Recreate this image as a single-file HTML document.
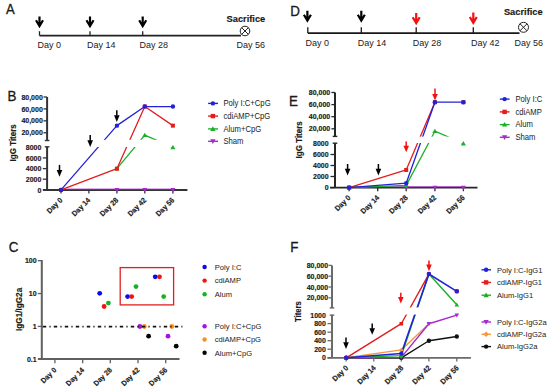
<!DOCTYPE html>
<html><head><meta charset="utf-8"><style>
html,body{margin:0;padding:0;background:#fff;}
svg{display:block;font-family:"Liberation Sans", sans-serif;}
</style></head><body>
<svg width="550" height="391" viewBox="0 0 550 391">
<rect width="550" height="391" fill="#fff"/>
<text transform="translate(6.00 14.30) scale(1.0 1.06)" font-size="13.0" text-anchor="start" fill="#1a1a1a" stroke="#1a1a1a" stroke-width="0.3" >A</text>
<text transform="translate(290.20 16.00) scale(1.0 1.06)" font-size="13.4" text-anchor="start" fill="#1a1a1a" stroke="#1a1a1a" stroke-width="0.3" >D</text>
<text transform="translate(7.60 100.70) scale(1.0 1.06)" font-size="13.4" text-anchor="start" fill="#1a1a1a" stroke="#1a1a1a" stroke-width="0.3" >B</text>
<text transform="translate(289.00 106.30) scale(1.0 1.06)" font-size="13.4" text-anchor="start" fill="#1a1a1a" stroke="#1a1a1a" stroke-width="0.3" >E</text>
<text transform="translate(8.80 252.30) scale(1.0 1.06)" font-size="13.4" text-anchor="start" fill="#1a1a1a" stroke="#1a1a1a" stroke-width="0.3" >C</text>
<text transform="translate(290.20 252.00) scale(1.0 1.06)" font-size="13.4" text-anchor="start" fill="#1a1a1a" stroke="#1a1a1a" stroke-width="0.3" >F</text>
<line x1="39.50" y1="35.65" x2="241.00" y2="35.65" stroke="#222" stroke-width="1.6" />
<line x1="39.50" y1="31.20" x2="39.50" y2="35.65" stroke="#222" stroke-width="1.3" />
<path d="M39.50,16.60 L39.50,25.40 M36.00,20.30 L39.50,26.20 L43.00,20.30" fill="none" stroke="#000" stroke-width="2.2" stroke-linejoin="miter" stroke-linecap="butt"/>
<line x1="90.00" y1="31.20" x2="90.00" y2="35.65" stroke="#222" stroke-width="1.3" />
<path d="M90.00,16.60 L90.00,25.40 M86.50,20.30 L90.00,26.20 L93.50,20.30" fill="none" stroke="#000" stroke-width="2.2" stroke-linejoin="miter" stroke-linecap="butt"/>
<line x1="142.70" y1="31.20" x2="142.70" y2="35.65" stroke="#222" stroke-width="1.3" />
<path d="M142.70,16.60 L142.70,25.40 M139.20,20.30 L142.70,26.20 L146.20,20.30" fill="none" stroke="#000" stroke-width="2.2" stroke-linejoin="miter" stroke-linecap="butt"/>
<circle cx="245.0" cy="31.0" r="4.8" fill="#fff" stroke="#222" stroke-width="1.0"/>
<path d="M241.61,27.61 L248.39,34.39 M248.39,27.61 L241.61,34.39" stroke="#222" stroke-width="1.0"/>
<text transform="translate(245.90 21.80) scale(1 1.06)" font-size="9.3" font-weight="bold" text-anchor="middle" fill="#1a1a1a" stroke="#1a1a1a" stroke-width="0.15" >Sacrifice</text>
<text transform="translate(37.40 47.60) scale(1.0 1.06)" font-size="9.0" text-anchor="start" fill="#1a1a1a" stroke="#1a1a1a" stroke-width="0" >Day 0</text>
<text transform="translate(86.90 47.60) scale(1.0 1.06)" font-size="9.0" text-anchor="start" fill="#1a1a1a" stroke="#1a1a1a" stroke-width="0" >Day 14</text>
<text transform="translate(139.60 47.60) scale(1.0 1.06)" font-size="9.0" text-anchor="start" fill="#1a1a1a" stroke="#1a1a1a" stroke-width="0" >Day 28</text>
<text transform="translate(236.60 47.60) scale(1.0 1.06)" font-size="9.0" text-anchor="start" fill="#1a1a1a" stroke="#1a1a1a" stroke-width="0" >Day 56</text>
<line x1="307.80" y1="33.10" x2="519.50" y2="33.10" stroke="#181818" stroke-width="1.6" />
<line x1="307.80" y1="27.30" x2="307.80" y2="33.10" stroke="#181818" stroke-width="1.3" />
<line x1="361.30" y1="27.30" x2="361.30" y2="33.10" stroke="#181818" stroke-width="1.3" />
<line x1="416.20" y1="27.30" x2="416.20" y2="33.10" stroke="#181818" stroke-width="1.3" />
<line x1="473.30" y1="27.30" x2="473.30" y2="33.10" stroke="#181818" stroke-width="1.3" />
<path d="M307.40,10.80 L307.40,19.80 M303.90,14.70 L307.40,20.60 L310.90,14.70" fill="none" stroke="#000" stroke-width="2.2" stroke-linejoin="miter" stroke-linecap="butt"/>
<path d="M361.30,10.80 L361.30,19.80 M357.80,14.70 L361.30,20.60 L364.80,14.70" fill="none" stroke="#000" stroke-width="2.2" stroke-linejoin="miter" stroke-linecap="butt"/>
<path d="M416.20,13.00 L416.20,22.30 M412.70,17.20 L416.20,23.10 L419.70,17.20" fill="none" stroke="#f51010" stroke-width="2.2" stroke-linejoin="miter" stroke-linecap="butt"/>
<path d="M473.30,12.60 L473.30,22.10 M469.80,17.00 L473.30,22.90 L476.80,17.00" fill="none" stroke="#f51010" stroke-width="2.2" stroke-linejoin="miter" stroke-linecap="butt"/>
<circle cx="523.5" cy="27.3" r="5.0" fill="#fff" stroke="#222" stroke-width="1.0"/>
<path d="M519.96,23.76 L527.04,30.84 M527.04,23.76 L519.96,30.84" stroke="#222" stroke-width="1.0"/>
<text transform="translate(523.30 14.90) scale(1 1.06)" font-size="9.3" font-weight="bold" text-anchor="middle" fill="#1a1a1a" stroke="#1a1a1a" stroke-width="0.15" >Sacrifice</text>
<text transform="translate(305.40 45.90) scale(1.0 1.06)" font-size="9.0" text-anchor="start" fill="#1a1a1a" stroke="#1a1a1a" stroke-width="0" >Day 0</text>
<text transform="translate(357.80 45.90) scale(1.0 1.06)" font-size="9.0" text-anchor="start" fill="#1a1a1a" stroke="#1a1a1a" stroke-width="0" >Day 14</text>
<text transform="translate(412.70 45.90) scale(1.0 1.06)" font-size="9.0" text-anchor="start" fill="#1a1a1a" stroke="#1a1a1a" stroke-width="0" >Day 28</text>
<text transform="translate(470.90 45.90) scale(1.0 1.06)" font-size="9.0" text-anchor="start" fill="#1a1a1a" stroke="#1a1a1a" stroke-width="0" >Day 42</text>
<text transform="translate(514.50 45.90) scale(1.0 1.06)" font-size="9.0" text-anchor="start" fill="#1a1a1a" stroke="#1a1a1a" stroke-width="0" >Day 56</text>
<line x1="43.00" y1="190.00" x2="187.40" y2="190.00" stroke="#333" stroke-width="1.8" />
<polyline points="61.00,189.10 116.90,189.10 144.80,189.10 172.90,189.10" fill="none" stroke="#a52ad0" stroke-width="0.9" stroke-linejoin="round"/>
<polyline points="116.90,168.66 144.80,135.19 172.90,147.42" fill="none" stroke="#1cb02a" stroke-width="1.3" stroke-linejoin="round"/>
<polyline points="61.00,189.90 116.90,168.66 144.80,106.55 172.90,125.64" fill="none" stroke="#e41c1c" stroke-width="1.3" stroke-linejoin="round"/>
<polyline points="61.00,189.90 116.90,125.64 144.80,106.55 172.90,106.55" fill="none" stroke="#2222d8" stroke-width="1.3" stroke-linejoin="round"/>
<rect x="48.30" y="139.80" width="140.30" height="7.20" fill="#fff"/>
<line x1="47.10" y1="97.00" x2="47.10" y2="140.50" stroke="#333" stroke-width="2.0" />
<line x1="44.80" y1="140.50" x2="49.40" y2="140.50" stroke="#333" stroke-width="1.4" />
<line x1="47.10" y1="146.80" x2="47.10" y2="190.00" stroke="#333" stroke-width="2.0" />
<line x1="44.80" y1="146.80" x2="49.40" y2="146.80" stroke="#333" stroke-width="1.4" />
<line x1="43.50" y1="97.00" x2="47.10" y2="97.00" stroke="#333" stroke-width="1.3" />
<text transform="translate(42.80 99.60) scale(1 1.06)" font-size="7" font-weight="bold" text-anchor="end" fill="#1a1a1a" stroke="#1a1a1a" stroke-width="0.15" >80,000</text>
<line x1="43.50" y1="108.90" x2="47.10" y2="108.90" stroke="#333" stroke-width="1.3" />
<text transform="translate(42.80 111.50) scale(1 1.06)" font-size="7" font-weight="bold" text-anchor="end" fill="#1a1a1a" stroke="#1a1a1a" stroke-width="0.15" >60,000</text>
<line x1="43.50" y1="120.80" x2="47.10" y2="120.80" stroke="#333" stroke-width="1.3" />
<text transform="translate(42.80 123.40) scale(1 1.06)" font-size="7" font-weight="bold" text-anchor="end" fill="#1a1a1a" stroke="#1a1a1a" stroke-width="0.15" >40,000</text>
<line x1="43.50" y1="132.80" x2="47.10" y2="132.80" stroke="#333" stroke-width="1.3" />
<text transform="translate(42.80 135.40) scale(1 1.06)" font-size="7" font-weight="bold" text-anchor="end" fill="#1a1a1a" stroke="#1a1a1a" stroke-width="0.15" >20,000</text>
<text transform="translate(41.30 150.00) scale(1 1.06)" font-size="7" font-weight="bold" text-anchor="end" fill="#1a1a1a" stroke="#1a1a1a" stroke-width="0.15" >8000</text>
<line x1="42.80" y1="157.90" x2="47.10" y2="157.90" stroke="#333" stroke-width="1.3" />
<text transform="translate(41.30 160.50) scale(1 1.06)" font-size="7" font-weight="bold" text-anchor="end" fill="#1a1a1a" stroke="#1a1a1a" stroke-width="0.15" >6000</text>
<line x1="42.80" y1="168.60" x2="47.10" y2="168.60" stroke="#333" stroke-width="1.3" />
<text transform="translate(41.30 171.20) scale(1 1.06)" font-size="7" font-weight="bold" text-anchor="end" fill="#1a1a1a" stroke="#1a1a1a" stroke-width="0.15" >4000</text>
<line x1="42.80" y1="179.20" x2="47.10" y2="179.20" stroke="#333" stroke-width="1.3" />
<text transform="translate(41.30 181.80) scale(1 1.06)" font-size="7" font-weight="bold" text-anchor="end" fill="#1a1a1a" stroke="#1a1a1a" stroke-width="0.15" >2000</text>
<line x1="42.80" y1="189.90" x2="47.10" y2="189.90" stroke="#333" stroke-width="1.3" />
<text transform="translate(41.30 192.50) scale(1 1.06)" font-size="7" font-weight="bold" text-anchor="end" fill="#1a1a1a" stroke="#1a1a1a" stroke-width="0.15" >0</text>
<line x1="61.00" y1="190.00" x2="61.00" y2="193.60" stroke="#333" stroke-width="1.3" />
<line x1="88.90" y1="190.00" x2="88.90" y2="193.60" stroke="#333" stroke-width="1.3" />
<line x1="116.90" y1="190.00" x2="116.90" y2="193.60" stroke="#333" stroke-width="1.3" />
<line x1="144.80" y1="190.00" x2="144.80" y2="193.60" stroke="#333" stroke-width="1.3" />
<line x1="172.90" y1="190.00" x2="172.90" y2="193.60" stroke="#333" stroke-width="1.3" />
<text font-size="7.1" font-weight="bold" text-anchor="end" fill="#1a1a1a" stroke="#1a1a1a" stroke-width="0.15" transform="translate(63.00 200.60) rotate(-45) scale(1 1.06)">Day 0</text>
<text font-size="7.1" font-weight="bold" text-anchor="end" fill="#1a1a1a" stroke="#1a1a1a" stroke-width="0.15" transform="translate(90.90 200.60) rotate(-45) scale(1 1.06)">Day 14</text>
<text font-size="7.1" font-weight="bold" text-anchor="end" fill="#1a1a1a" stroke="#1a1a1a" stroke-width="0.15" transform="translate(118.90 200.60) rotate(-45) scale(1 1.06)">Day 28</text>
<text font-size="7.1" font-weight="bold" text-anchor="end" fill="#1a1a1a" stroke="#1a1a1a" stroke-width="0.15" transform="translate(146.80 200.60) rotate(-45) scale(1 1.06)">Day 42</text>
<text font-size="7.1" font-weight="bold" text-anchor="end" fill="#1a1a1a" stroke="#1a1a1a" stroke-width="0.15" transform="translate(174.90 200.60) rotate(-45) scale(1 1.06)">Day 56</text>
<text font-size="8" font-weight="bold" text-anchor="middle" fill="#1a1a1a" stroke="#1a1a1a" stroke-width="0.15" transform="translate(15.80 142.80) rotate(-90) scale(1 1.06)">IgG Titers</text>
<path d="M61.00,192.30 L63.40,188.10 L58.60,188.10 Z" fill="#a52ad0"/>
<path d="M116.90,192.30 L119.30,188.10 L114.50,188.10 Z" fill="#a52ad0"/>
<path d="M144.80,192.30 L147.20,188.10 L142.40,188.10 Z" fill="#a52ad0"/>
<path d="M172.90,192.30 L175.30,188.10 L170.50,188.10 Z" fill="#a52ad0"/>
<path d="M116.90,166.14 L119.42,170.55 L114.38,170.55 Z" fill="#1cb02a"/>
<path d="M144.80,132.67 L147.32,137.08 L142.28,137.08 Z" fill="#1cb02a"/>
<path d="M172.90,144.90 L175.42,149.31 L170.38,149.31 Z" fill="#1cb02a"/>
<rect x="59.00" y="187.90" width="4.00" height="4.00" fill="#e41c1c"/>
<rect x="114.90" y="166.66" width="4.00" height="4.00" fill="#e41c1c"/>
<rect x="142.80" y="104.55" width="4.00" height="4.00" fill="#e41c1c"/>
<rect x="170.90" y="123.64" width="4.00" height="4.00" fill="#e41c1c"/>
<circle cx="61.00" cy="189.90" r="2.2" fill="#2222d8"/>
<circle cx="116.90" cy="125.64" r="2.2" fill="#2222d8"/>
<circle cx="144.80" cy="106.55" r="2.2" fill="#2222d8"/>
<circle cx="172.90" cy="106.55" r="2.2" fill="#2222d8"/>
<line x1="59.50" y1="164.90" x2="59.50" y2="170.60" stroke="#000" stroke-width="1.5"/>
<path d="M56.70,170.10 L62.30,170.10 L59.50,176.70 Z" fill="#000"/>
<line x1="90.20" y1="135.10" x2="90.20" y2="140.80" stroke="#000" stroke-width="1.5"/>
<path d="M87.40,140.30 L93.00,140.30 L90.20,146.90 Z" fill="#000"/>
<line x1="116.80" y1="110.30" x2="116.80" y2="115.80" stroke="#000" stroke-width="1.5"/>
<path d="M114.00,115.30 L119.60,115.30 L116.80,121.90 Z" fill="#000"/>
<line x1="208.10" y1="103.40" x2="218.00" y2="103.40" stroke="#2222d8" stroke-width="1.4" />
<circle cx="212.90" cy="103.40" r="2.2" fill="#2222d8"/>
<text transform="translate(223.40 106.10) scale(1.0 1.06)" font-size="7.7" text-anchor="start" fill="#1a1a1a" stroke="#1a1a1a" stroke-width="0" >Poly I:C+CpG</text>
<line x1="208.10" y1="116.10" x2="218.00" y2="116.10" stroke="#e41c1c" stroke-width="1.4" />
<rect x="210.70" y="113.90" width="4.40" height="4.40" fill="#e41c1c"/>
<text transform="translate(223.40 118.80) scale(1.0 1.06)" font-size="7.7" text-anchor="start" fill="#1a1a1a" stroke="#1a1a1a" stroke-width="0" >cdiAMP+CpG</text>
<line x1="208.10" y1="128.90" x2="218.00" y2="128.90" stroke="#1cb02a" stroke-width="1.4" />
<path d="M212.90,126.26 L215.54,130.88 L210.26,130.88 Z" fill="#1cb02a"/>
<text transform="translate(223.40 131.60) scale(1.0 1.06)" font-size="7.7" text-anchor="start" fill="#1a1a1a" stroke="#1a1a1a" stroke-width="0" >Alum+CpG</text>
<line x1="208.10" y1="141.30" x2="218.00" y2="141.30" stroke="#a52ad0" stroke-width="1.4" />
<path d="M212.90,143.94 L215.54,139.32 L210.26,139.32 Z" fill="#a52ad0"/>
<text transform="translate(223.40 144.00) scale(1.0 1.06)" font-size="7.7" text-anchor="start" fill="#1a1a1a" stroke="#1a1a1a" stroke-width="0" >Sham</text>
<line x1="330.00" y1="187.60" x2="477.50" y2="187.60" stroke="#262626" stroke-width="1.8" />
<polyline points="349.10,186.80 406.20,186.80 434.90,186.80 463.40,186.80" fill="none" stroke="#a52ad0" stroke-width="0.9" stroke-linejoin="round"/>
<polyline points="349.10,187.60 406.20,185.40 434.90,131.22 463.40,143.52" fill="none" stroke="#1cb02a" stroke-width="1.3" stroke-linejoin="round"/>
<polyline points="349.10,187.60 406.20,169.97 434.90,102.18" fill="none" stroke="#e41c1c" stroke-width="1.3" stroke-linejoin="round"/>
<polyline points="349.10,187.60 406.20,183.19 434.90,102.18 463.40,102.18" fill="none" stroke="#2222d8" stroke-width="1.3" stroke-linejoin="round"/>
<rect x="336.20" y="136.60" width="142.50" height="6.40" fill="#fff"/>
<line x1="335.00" y1="92.50" x2="335.00" y2="136.40" stroke="#262626" stroke-width="2.0" />
<line x1="332.70" y1="136.40" x2="337.30" y2="136.40" stroke="#262626" stroke-width="1.4" />
<line x1="335.00" y1="143.20" x2="335.00" y2="187.60" stroke="#262626" stroke-width="2.0" />
<line x1="332.70" y1="143.20" x2="337.30" y2="143.20" stroke="#262626" stroke-width="1.4" />
<line x1="331.40" y1="92.50" x2="335.00" y2="92.50" stroke="#262626" stroke-width="1.3" />
<text transform="translate(330.20 95.10) scale(1 1.06)" font-size="7" font-weight="bold" text-anchor="end" fill="#1a1a1a" stroke="#1a1a1a" stroke-width="0.15" >80,000</text>
<line x1="331.40" y1="104.60" x2="335.00" y2="104.60" stroke="#262626" stroke-width="1.3" />
<text transform="translate(330.20 107.20) scale(1 1.06)" font-size="7" font-weight="bold" text-anchor="end" fill="#1a1a1a" stroke="#1a1a1a" stroke-width="0.15" >60,000</text>
<line x1="331.40" y1="116.70" x2="335.00" y2="116.70" stroke="#262626" stroke-width="1.3" />
<text transform="translate(330.20 119.30) scale(1 1.06)" font-size="7" font-weight="bold" text-anchor="end" fill="#1a1a1a" stroke="#1a1a1a" stroke-width="0.15" >40,000</text>
<line x1="331.40" y1="128.80" x2="335.00" y2="128.80" stroke="#262626" stroke-width="1.3" />
<text transform="translate(330.20 131.40) scale(1 1.06)" font-size="7" font-weight="bold" text-anchor="end" fill="#1a1a1a" stroke="#1a1a1a" stroke-width="0.15" >20,000</text>
<text transform="translate(328.60 146.20) scale(1 1.06)" font-size="7" font-weight="bold" text-anchor="end" fill="#1a1a1a" stroke="#1a1a1a" stroke-width="0.15" >8000</text>
<line x1="330.50" y1="154.50" x2="335.00" y2="154.50" stroke="#262626" stroke-width="1.3" />
<text transform="translate(328.60 157.10) scale(1 1.06)" font-size="7" font-weight="bold" text-anchor="end" fill="#1a1a1a" stroke="#1a1a1a" stroke-width="0.15" >6000</text>
<line x1="330.50" y1="165.50" x2="335.00" y2="165.50" stroke="#262626" stroke-width="1.3" />
<text transform="translate(328.60 168.10) scale(1 1.06)" font-size="7" font-weight="bold" text-anchor="end" fill="#1a1a1a" stroke="#1a1a1a" stroke-width="0.15" >4000</text>
<line x1="330.50" y1="176.50" x2="335.00" y2="176.50" stroke="#262626" stroke-width="1.3" />
<text transform="translate(328.60 179.10) scale(1 1.06)" font-size="7" font-weight="bold" text-anchor="end" fill="#1a1a1a" stroke="#1a1a1a" stroke-width="0.15" >2000</text>
<line x1="330.50" y1="187.60" x2="335.00" y2="187.60" stroke="#262626" stroke-width="1.3" />
<text transform="translate(328.60 190.20) scale(1 1.06)" font-size="7" font-weight="bold" text-anchor="end" fill="#1a1a1a" stroke="#1a1a1a" stroke-width="0.15" >0</text>
<line x1="349.10" y1="187.60" x2="349.10" y2="191.20" stroke="#262626" stroke-width="1.3" />
<line x1="377.70" y1="187.60" x2="377.70" y2="191.20" stroke="#262626" stroke-width="1.3" />
<line x1="406.20" y1="187.60" x2="406.20" y2="191.20" stroke="#262626" stroke-width="1.3" />
<line x1="434.90" y1="187.60" x2="434.90" y2="191.20" stroke="#262626" stroke-width="1.3" />
<line x1="463.40" y1="187.60" x2="463.40" y2="191.20" stroke="#262626" stroke-width="1.3" />
<text font-size="7.1" font-weight="bold" text-anchor="end" fill="#1a1a1a" stroke="#1a1a1a" stroke-width="0.15" transform="translate(351.10 198.20) rotate(-45) scale(1 1.06)">Day 0</text>
<text font-size="7.1" font-weight="bold" text-anchor="end" fill="#1a1a1a" stroke="#1a1a1a" stroke-width="0.15" transform="translate(379.70 198.20) rotate(-45) scale(1 1.06)">Day 14</text>
<text font-size="7.1" font-weight="bold" text-anchor="end" fill="#1a1a1a" stroke="#1a1a1a" stroke-width="0.15" transform="translate(408.20 198.20) rotate(-45) scale(1 1.06)">Day 28</text>
<text font-size="7.1" font-weight="bold" text-anchor="end" fill="#1a1a1a" stroke="#1a1a1a" stroke-width="0.15" transform="translate(436.90 198.20) rotate(-45) scale(1 1.06)">Day 42</text>
<text font-size="7.1" font-weight="bold" text-anchor="end" fill="#1a1a1a" stroke="#1a1a1a" stroke-width="0.15" transform="translate(465.40 198.20) rotate(-45) scale(1 1.06)">Day 56</text>
<text font-size="8" font-weight="bold" text-anchor="middle" fill="#1a1a1a" stroke="#1a1a1a" stroke-width="0.15" transform="translate(302.10 139.80) rotate(-90) scale(1 1.06)">IgG Titers</text>
<rect x="461.40" y="100.18" width="4.00" height="4.00" fill="#e41c1c"/>
<path d="M349.10,190.00 L351.50,185.80 L346.70,185.80 Z" fill="#a52ad0"/>
<path d="M406.20,190.00 L408.60,185.80 L403.80,185.80 Z" fill="#a52ad0"/>
<path d="M434.90,190.00 L437.30,185.80 L432.50,185.80 Z" fill="#a52ad0"/>
<path d="M463.40,190.00 L465.80,185.80 L461.00,185.80 Z" fill="#a52ad0"/>
<path d="M349.10,185.08 L351.62,189.49 L346.58,189.49 Z" fill="#1cb02a"/>
<path d="M406.20,182.88 L408.72,187.29 L403.68,187.29 Z" fill="#1cb02a"/>
<path d="M434.90,128.70 L437.42,133.11 L432.38,133.11 Z" fill="#1cb02a"/>
<path d="M463.40,141.00 L465.92,145.41 L460.88,145.41 Z" fill="#1cb02a"/>
<rect x="347.10" y="185.60" width="4.00" height="4.00" fill="#e41c1c"/>
<rect x="404.20" y="167.97" width="4.00" height="4.00" fill="#e41c1c"/>
<rect x="432.90" y="100.18" width="4.00" height="4.00" fill="#e41c1c"/>
<circle cx="349.10" cy="187.60" r="2.2" fill="#2222d8"/>
<circle cx="406.20" cy="183.19" r="2.2" fill="#2222d8"/>
<circle cx="434.90" cy="102.18" r="2.2" fill="#2222d8"/>
<circle cx="463.40" cy="102.18" r="2.2" fill="#2222d8"/>
<line x1="347.60" y1="164.00" x2="347.60" y2="169.30" stroke="#000" stroke-width="1.5"/>
<path d="M344.80,168.80 L350.40,168.80 L347.60,175.40 Z" fill="#000"/>
<line x1="378.40" y1="164.00" x2="378.40" y2="169.30" stroke="#000" stroke-width="1.5"/>
<path d="M375.60,168.80 L381.20,168.80 L378.40,175.40 Z" fill="#000"/>
<line x1="406.20" y1="141.50" x2="406.20" y2="146.20" stroke="#f51010" stroke-width="1.5"/>
<path d="M403.40,145.70 L409.00,145.70 L406.20,152.30 Z" fill="#f51010"/>
<line x1="435.00" y1="88.50" x2="435.00" y2="94.50" stroke="#f51010" stroke-width="1.5"/>
<path d="M432.20,94.00 L437.80,94.00 L435.00,100.60 Z" fill="#f51010"/>
<line x1="499.80" y1="99.10" x2="509.60" y2="99.10" stroke="#2222d8" stroke-width="1.4" />
<circle cx="504.60" cy="99.10" r="2.2" fill="#2222d8"/>
<text transform="translate(515.40 101.80) scale(1.0 1.06)" font-size="7.7" text-anchor="start" fill="#1a1a1a" stroke="#1a1a1a" stroke-width="0" >Poly I:C</text>
<line x1="499.80" y1="111.90" x2="509.60" y2="111.90" stroke="#e41c1c" stroke-width="1.4" />
<rect x="502.40" y="109.70" width="4.40" height="4.40" fill="#e41c1c"/>
<text transform="translate(515.40 114.60) scale(1.0 1.06)" font-size="7.7" text-anchor="start" fill="#1a1a1a" stroke="#1a1a1a" stroke-width="0" >cdiAMP</text>
<line x1="499.80" y1="124.60" x2="509.60" y2="124.60" stroke="#1cb02a" stroke-width="1.4" />
<path d="M504.60,121.96 L507.24,126.58 L501.96,126.58 Z" fill="#1cb02a"/>
<text transform="translate(515.40 127.30) scale(1.0 1.06)" font-size="7.7" text-anchor="start" fill="#1a1a1a" stroke="#1a1a1a" stroke-width="0" >Alum</text>
<line x1="499.80" y1="137.30" x2="509.60" y2="137.30" stroke="#a52ad0" stroke-width="1.4" />
<path d="M504.60,139.94 L507.24,135.32 L501.96,135.32 Z" fill="#a52ad0"/>
<text transform="translate(515.40 140.00) scale(1.0 1.06)" font-size="7.7" text-anchor="start" fill="#1a1a1a" stroke="#1a1a1a" stroke-width="0" >Sham</text>
<line x1="327.50" y1="357.90" x2="470.90" y2="357.90" stroke="#6a6a6a" stroke-width="1.8" />
<polyline points="346.20,357.80 401.30,357.80 428.90,340.76 456.80,336.50" fill="none" stroke="#111111" stroke-width="1.4" stroke-linejoin="round"/>
<polyline points="346.20,357.80 401.30,349.92 428.90,323.72" fill="none" stroke="#f5993e" stroke-width="1.4" stroke-linejoin="round"/>
<polyline points="346.20,357.80 401.30,357.37 428.90,323.72 456.80,315.20" fill="none" stroke="#a52ad0" stroke-width="1.4" stroke-linejoin="round"/>
<polyline points="346.20,357.80 401.30,355.67 428.90,274.04 456.80,304.82" fill="none" stroke="#1cb02a" stroke-width="1.4" stroke-linejoin="round"/>
<polyline points="346.20,357.80 401.30,323.72 428.90,274.04" fill="none" stroke="#e41c1c" stroke-width="1.4" stroke-linejoin="round"/>
<polyline points="346.20,357.80 401.30,353.54 428.90,274.04 456.80,291.32" fill="none" stroke="#2222d8" stroke-width="1.6" stroke-linejoin="round"/>
<rect x="333.20" y="307.40" width="138.90" height="7.20" fill="#fff"/>
<line x1="332.00" y1="265.40" x2="332.00" y2="307.90" stroke="#6a6a6a" stroke-width="2.0" />
<line x1="329.70" y1="307.90" x2="334.30" y2="307.90" stroke="#6a6a6a" stroke-width="1.4" />
<line x1="332.00" y1="315.10" x2="332.00" y2="357.90" stroke="#6a6a6a" stroke-width="2.0" />
<line x1="329.70" y1="315.10" x2="334.30" y2="315.10" stroke="#6a6a6a" stroke-width="1.4" />
<line x1="328.60" y1="265.40" x2="332.00" y2="265.40" stroke="#6a6a6a" stroke-width="1.3" />
<text transform="translate(328.10 268.00) scale(1 1.06)" font-size="7" font-weight="bold" text-anchor="end" fill="#1a1a1a" stroke="#1a1a1a" stroke-width="0.15" >80,000</text>
<line x1="328.60" y1="276.20" x2="332.00" y2="276.20" stroke="#6a6a6a" stroke-width="1.3" />
<text transform="translate(328.10 278.80) scale(1 1.06)" font-size="7" font-weight="bold" text-anchor="end" fill="#1a1a1a" stroke="#1a1a1a" stroke-width="0.15" >60,000</text>
<line x1="328.60" y1="287.00" x2="332.00" y2="287.00" stroke="#6a6a6a" stroke-width="1.3" />
<text transform="translate(328.10 289.60) scale(1 1.06)" font-size="7" font-weight="bold" text-anchor="end" fill="#1a1a1a" stroke="#1a1a1a" stroke-width="0.15" >40,000</text>
<line x1="328.60" y1="297.80" x2="332.00" y2="297.80" stroke="#6a6a6a" stroke-width="1.3" />
<text transform="translate(328.10 300.40) scale(1 1.06)" font-size="7" font-weight="bold" text-anchor="end" fill="#1a1a1a" stroke="#1a1a1a" stroke-width="0.15" >20,000</text>
<text transform="translate(325.90 317.80) scale(1 1.06)" font-size="7" font-weight="bold" text-anchor="end" fill="#1a1a1a" stroke="#1a1a1a" stroke-width="0.15" >1000</text>
<line x1="327.50" y1="323.60" x2="332.00" y2="323.60" stroke="#6a6a6a" stroke-width="1.3" />
<text transform="translate(325.90 326.20) scale(1 1.06)" font-size="7" font-weight="bold" text-anchor="end" fill="#1a1a1a" stroke="#1a1a1a" stroke-width="0.15" >800</text>
<line x1="327.50" y1="332.20" x2="332.00" y2="332.20" stroke="#6a6a6a" stroke-width="1.3" />
<text transform="translate(325.90 334.80) scale(1 1.06)" font-size="7" font-weight="bold" text-anchor="end" fill="#1a1a1a" stroke="#1a1a1a" stroke-width="0.15" >600</text>
<line x1="327.50" y1="340.70" x2="332.00" y2="340.70" stroke="#6a6a6a" stroke-width="1.3" />
<text transform="translate(325.90 343.30) scale(1 1.06)" font-size="7" font-weight="bold" text-anchor="end" fill="#1a1a1a" stroke="#1a1a1a" stroke-width="0.15" >400</text>
<line x1="327.50" y1="349.20" x2="332.00" y2="349.20" stroke="#6a6a6a" stroke-width="1.3" />
<text transform="translate(325.90 351.80) scale(1 1.06)" font-size="7" font-weight="bold" text-anchor="end" fill="#1a1a1a" stroke="#1a1a1a" stroke-width="0.15" >200</text>
<line x1="327.50" y1="357.80" x2="332.00" y2="357.80" stroke="#6a6a6a" stroke-width="1.3" />
<text transform="translate(325.90 360.40) scale(1 1.06)" font-size="7" font-weight="bold" text-anchor="end" fill="#1a1a1a" stroke="#1a1a1a" stroke-width="0.15" >0</text>
<line x1="346.20" y1="357.90" x2="346.20" y2="361.50" stroke="#6a6a6a" stroke-width="1.3" />
<line x1="373.80" y1="357.90" x2="373.80" y2="361.50" stroke="#6a6a6a" stroke-width="1.3" />
<line x1="401.30" y1="357.90" x2="401.30" y2="361.50" stroke="#6a6a6a" stroke-width="1.3" />
<line x1="428.90" y1="357.90" x2="428.90" y2="361.50" stroke="#6a6a6a" stroke-width="1.3" />
<line x1="456.80" y1="357.90" x2="456.80" y2="361.50" stroke="#6a6a6a" stroke-width="1.3" />
<text font-size="7.1" font-weight="bold" text-anchor="end" fill="#1a1a1a" stroke="#1a1a1a" stroke-width="0.15" transform="translate(348.70 368.50) rotate(-45) scale(1 1.06)">Day 0</text>
<text font-size="7.1" font-weight="bold" text-anchor="end" fill="#1a1a1a" stroke="#1a1a1a" stroke-width="0.15" transform="translate(376.30 368.50) rotate(-45) scale(1 1.06)">Day 14</text>
<text font-size="7.1" font-weight="bold" text-anchor="end" fill="#1a1a1a" stroke="#1a1a1a" stroke-width="0.15" transform="translate(403.80 368.50) rotate(-45) scale(1 1.06)">Day 28</text>
<text font-size="7.1" font-weight="bold" text-anchor="end" fill="#1a1a1a" stroke="#1a1a1a" stroke-width="0.15" transform="translate(431.40 368.50) rotate(-45) scale(1 1.06)">Day 42</text>
<text font-size="7.1" font-weight="bold" text-anchor="end" fill="#1a1a1a" stroke="#1a1a1a" stroke-width="0.15" transform="translate(459.30 368.50) rotate(-45) scale(1 1.06)">Day 56</text>
<text font-size="7.7" font-weight="bold" text-anchor="middle" fill="#1a1a1a" stroke="#1a1a1a" stroke-width="0.15" transform="translate(301.30 311.60) rotate(-90) scale(1 1.06)">Titers</text>
<rect x="454.90" y="289.42" width="3.80" height="3.80" fill="#e41c1c"/>
<circle cx="346.20" cy="357.80" r="2.2" fill="#111111"/>
<circle cx="401.30" cy="357.80" r="2.2" fill="#111111"/>
<circle cx="428.90" cy="340.76" r="2.2" fill="#111111"/>
<circle cx="456.80" cy="336.50" r="2.2" fill="#111111"/>
<path d="M346.20,355.55 L348.45,357.80 L346.20,360.05 L343.95,357.80 Z" fill="#f5993e"/>
<path d="M401.30,347.67 L403.55,349.92 L401.30,352.17 L399.05,349.92 Z" fill="#f5993e"/>
<path d="M428.90,321.47 L431.15,323.72 L428.90,325.97 L426.65,323.72 Z" fill="#f5993e"/>
<path d="M346.20,360.08 L348.48,356.09 L343.92,356.09 Z" fill="#a52ad0"/>
<path d="M401.30,359.65 L403.58,355.66 L399.02,355.66 Z" fill="#a52ad0"/>
<path d="M428.90,326.00 L431.18,322.01 L426.62,322.01 Z" fill="#a52ad0"/>
<path d="M456.80,317.48 L459.08,313.49 L454.52,313.49 Z" fill="#a52ad0"/>
<path d="M346.20,355.52 L348.48,359.51 L343.92,359.51 Z" fill="#1cb02a"/>
<path d="M401.30,353.39 L403.58,357.38 L399.02,357.38 Z" fill="#1cb02a"/>
<path d="M428.90,271.76 L431.18,275.75 L426.62,275.75 Z" fill="#1cb02a"/>
<path d="M456.80,302.54 L459.08,306.53 L454.52,306.53 Z" fill="#1cb02a"/>
<rect x="344.40" y="356.00" width="3.60" height="3.60" fill="#e41c1c"/>
<rect x="399.50" y="321.92" width="3.60" height="3.60" fill="#e41c1c"/>
<rect x="427.10" y="272.24" width="3.60" height="3.60" fill="#e41c1c"/>
<circle cx="346.20" cy="357.80" r="2.2" fill="#2222d8"/>
<circle cx="401.30" cy="353.54" r="2.2" fill="#2222d8"/>
<circle cx="428.90" cy="274.04" r="2.2" fill="#2222d8"/>
<circle cx="456.80" cy="291.32" r="2.2" fill="#2222d8"/>
<line x1="346.00" y1="337.60" x2="346.00" y2="342.80" stroke="#000" stroke-width="1.5"/>
<path d="M343.20,342.30 L348.80,342.30 L346.00,348.90 Z" fill="#000"/>
<line x1="372.20" y1="323.60" x2="372.20" y2="328.70" stroke="#000" stroke-width="1.5"/>
<path d="M369.40,328.20 L375.00,328.20 L372.20,334.80 Z" fill="#000"/>
<line x1="400.80" y1="292.80" x2="400.80" y2="297.50" stroke="#f51010" stroke-width="1.5"/>
<path d="M398.00,297.00 L403.60,297.00 L400.80,303.60 Z" fill="#f51010"/>
<line x1="429.00" y1="260.40" x2="429.00" y2="265.10" stroke="#f51010" stroke-width="1.5"/>
<path d="M426.20,264.60 L431.80,264.60 L429.00,271.20 Z" fill="#f51010"/>
<line x1="481.50" y1="269.80" x2="491.00" y2="269.80" stroke="#2222d8" stroke-width="1.4" />
<circle cx="486.10" cy="269.80" r="2.2" fill="#2222d8"/>
<text transform="translate(496.90 272.50) scale(1.0 1.06)" font-size="7.6" text-anchor="start" fill="#1a1a1a" stroke="#1a1a1a" stroke-width="0" >Poly I:C-IgG1</text>
<line x1="481.50" y1="282.40" x2="491.00" y2="282.40" stroke="#e41c1c" stroke-width="1.4" />
<rect x="483.90" y="280.20" width="4.40" height="4.40" fill="#e41c1c"/>
<text transform="translate(496.90 285.10) scale(1.0 1.06)" font-size="7.6" text-anchor="start" fill="#1a1a1a" stroke="#1a1a1a" stroke-width="0" >cdiAMP-IgG1</text>
<line x1="481.50" y1="295.20" x2="491.00" y2="295.20" stroke="#1cb02a" stroke-width="1.4" />
<path d="M486.10,292.56 L488.74,297.18 L483.46,297.18 Z" fill="#1cb02a"/>
<text transform="translate(496.90 297.90) scale(1.0 1.06)" font-size="7.6" text-anchor="start" fill="#1a1a1a" stroke="#1a1a1a" stroke-width="0" >Alum-IgG1</text>
<line x1="481.50" y1="322.00" x2="491.00" y2="322.00" stroke="#a52ad0" stroke-width="1.4" />
<path d="M486.10,324.64 L488.74,320.02 L483.46,320.02 Z" fill="#a52ad0"/>
<text transform="translate(496.90 324.70) scale(1.0 1.06)" font-size="7.6" text-anchor="start" fill="#1a1a1a" stroke="#1a1a1a" stroke-width="0" >Poly I:C-IgG2a</text>
<line x1="481.50" y1="334.30" x2="491.00" y2="334.30" stroke="#f5993e" stroke-width="1.4" />
<path d="M486.10,331.55 L488.85,334.30 L486.10,337.05 L483.35,334.30 Z" fill="#f5993e"/>
<text transform="translate(496.90 337.00) scale(1.0 1.06)" font-size="7.6" text-anchor="start" fill="#1a1a1a" stroke="#1a1a1a" stroke-width="0" >cdiAMP-IgG2a</text>
<line x1="481.50" y1="346.60" x2="491.00" y2="346.60" stroke="#111111" stroke-width="1.4" />
<circle cx="486.10" cy="346.60" r="2.2" fill="#111111"/>
<text transform="translate(496.90 349.30) scale(1.0 1.06)" font-size="7.6" text-anchor="start" fill="#1a1a1a" stroke="#1a1a1a" stroke-width="0" >Alum-IgG2a</text>
<line x1="38.00" y1="359.00" x2="179.50" y2="359.00" stroke="#606060" stroke-width="1.8" />
<line x1="41.80" y1="260.00" x2="41.80" y2="359.00" stroke="#606060" stroke-width="2.0" />
<line x1="37.80" y1="260.70" x2="41.80" y2="260.70" stroke="#606060" stroke-width="1.3" />
<text transform="translate(36.60 263.20) scale(1 1.06)" font-size="7" font-weight="bold" text-anchor="end" fill="#1a1a1a" stroke="#1a1a1a" stroke-width="0.15" >100</text>
<line x1="37.80" y1="293.55" x2="41.80" y2="293.55" stroke="#606060" stroke-width="1.3" />
<text transform="translate(36.60 296.05) scale(1 1.06)" font-size="7" font-weight="bold" text-anchor="end" fill="#1a1a1a" stroke="#1a1a1a" stroke-width="0.15" >10</text>
<line x1="37.80" y1="326.40" x2="41.80" y2="326.40" stroke="#606060" stroke-width="1.3" />
<text transform="translate(36.60 328.90) scale(1 1.06)" font-size="7" font-weight="bold" text-anchor="end" fill="#1a1a1a" stroke="#1a1a1a" stroke-width="0.15" >1</text>
<line x1="37.80" y1="359.20" x2="41.80" y2="359.20" stroke="#606060" stroke-width="1.3" />
<text transform="translate(36.60 361.70) scale(1 1.06)" font-size="7" font-weight="bold" text-anchor="end" fill="#1a1a1a" stroke="#1a1a1a" stroke-width="0.15" >0.1</text>
<line x1="54.90" y1="359.00" x2="54.90" y2="363.20" stroke="#606060" stroke-width="1.3" />
<line x1="82.70" y1="359.00" x2="82.70" y2="363.20" stroke="#606060" stroke-width="1.3" />
<line x1="110.30" y1="359.00" x2="110.30" y2="363.20" stroke="#606060" stroke-width="1.3" />
<line x1="138.00" y1="359.00" x2="138.00" y2="363.20" stroke="#606060" stroke-width="1.3" />
<line x1="165.70" y1="359.00" x2="165.70" y2="363.20" stroke="#606060" stroke-width="1.3" />
<text font-size="7.0" font-weight="bold" text-anchor="end" fill="#1a1a1a" stroke="#1a1a1a" stroke-width="0.15" transform="translate(57.00 370.50) rotate(-45) scale(1 1.06)">Day 0</text>
<text font-size="7.0" font-weight="bold" text-anchor="end" fill="#1a1a1a" stroke="#1a1a1a" stroke-width="0.15" transform="translate(84.80 370.50) rotate(-45) scale(1 1.06)">Day 14</text>
<text font-size="7.0" font-weight="bold" text-anchor="end" fill="#1a1a1a" stroke="#1a1a1a" stroke-width="0.15" transform="translate(112.40 370.50) rotate(-45) scale(1 1.06)">Day 28</text>
<text font-size="7.0" font-weight="bold" text-anchor="end" fill="#1a1a1a" stroke="#1a1a1a" stroke-width="0.15" transform="translate(140.10 370.50) rotate(-45) scale(1 1.06)">Day 42</text>
<text font-size="7.0" font-weight="bold" text-anchor="end" fill="#1a1a1a" stroke="#1a1a1a" stroke-width="0.15" transform="translate(167.80 370.50) rotate(-45) scale(1 1.06)">Day 56</text>
<text font-size="8.2" font-weight="bold" text-anchor="middle" fill="#1a1a1a" stroke="#1a1a1a" stroke-width="0.15" transform="translate(21.60 309.40) rotate(-90) scale(1 1.06)">IgG1/IgG2a</text>
<rect x="120.2" y="267.6" width="53.4" height="37.3" fill="none" stroke="#e02020" stroke-width="1.3"/>
<circle cx="99.7" cy="293.3" r="2.4" fill="#0a0aee"/>
<circle cx="104.1" cy="306.5" r="2.4" fill="#f21414"/>
<circle cx="108.4" cy="303.1" r="2.4" fill="#14b424"/>
<circle cx="127.6" cy="296.6" r="2.4" fill="#0a0aee"/>
<circle cx="131.7" cy="296.6" r="2.4" fill="#f21414"/>
<circle cx="136.0" cy="286.6" r="2.4" fill="#14b424"/>
<circle cx="155.2" cy="276.8" r="2.4" fill="#0a0aee"/>
<circle cx="159.5" cy="276.8" r="2.4" fill="#f21414"/>
<circle cx="163.7" cy="296.6" r="2.4" fill="#14b424"/>
<circle cx="139.9" cy="326.5" r="2.4" fill="#a414e0"/>
<circle cx="144.3" cy="326.5" r="2.4" fill="#ff8c1a"/>
<circle cx="148.6" cy="336.2" r="2.4" fill="#050505"/>
<circle cx="171.8" cy="326.5" r="2.4" fill="#ff8c1a"/>
<circle cx="168.0" cy="336.2" r="2.4" fill="#a414e0"/>
<circle cx="176.2" cy="346.2" r="2.4" fill="#050505"/>
<line x1="42.8" y1="326.6" x2="182.4" y2="326.6" stroke="#111" stroke-width="1.6" stroke-dasharray="3.4,3.2,1.2,3.2"/>
<circle cx="204.6" cy="267.0" r="2.2" fill="#0a0aee"/>
<text transform="translate(214.80 269.70) scale(1.0 1.06)" font-size="7.6" text-anchor="start" fill="#1a1a1a" stroke="#1a1a1a" stroke-width="0" >Poly I:C</text>
<circle cx="204.6" cy="280.6" r="2.2" fill="#f21414"/>
<text transform="translate(214.80 283.30) scale(1.0 1.06)" font-size="7.6" text-anchor="start" fill="#1a1a1a" stroke="#1a1a1a" stroke-width="0" >cdiAMP</text>
<circle cx="204.6" cy="294.2" r="2.2" fill="#14b424"/>
<text transform="translate(214.80 296.90) scale(1.0 1.06)" font-size="7.6" text-anchor="start" fill="#1a1a1a" stroke="#1a1a1a" stroke-width="0" >Alum</text>
<circle cx="204.6" cy="326.2" r="2.2" fill="#a414e0"/>
<text transform="translate(214.80 328.90) scale(1.0 1.06)" font-size="7.6" text-anchor="start" fill="#1a1a1a" stroke="#1a1a1a" stroke-width="0" >Poly I:C+CpG</text>
<circle cx="204.6" cy="339.5" r="2.2" fill="#ff8c1a"/>
<text transform="translate(214.80 342.20) scale(1.0 1.06)" font-size="7.6" text-anchor="start" fill="#1a1a1a" stroke="#1a1a1a" stroke-width="0" >cdiAMP+CpG</text>
<circle cx="204.6" cy="352.8" r="2.2" fill="#050505"/>
<text transform="translate(214.80 355.50) scale(1.0 1.06)" font-size="7.6" text-anchor="start" fill="#1a1a1a" stroke="#1a1a1a" stroke-width="0" >Alum+CpG</text>
</svg>
</body></html>
